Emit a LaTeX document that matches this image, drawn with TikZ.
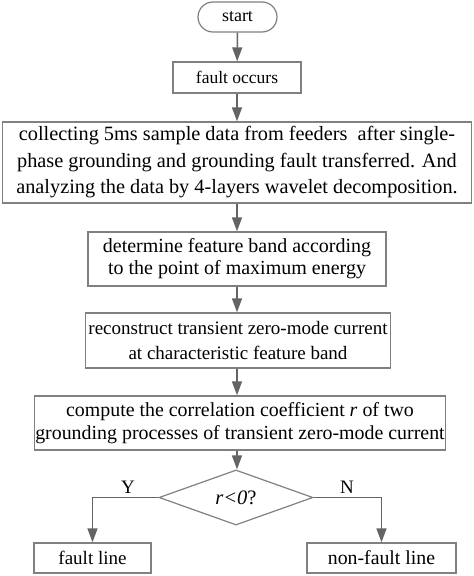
\documentclass[tikz,border=0pt]{standalone}
\usepackage{fontspec}
\setmainfont{Liberation Serif}
\usetikzlibrary{shapes.geometric,shapes.misc,arrows.meta}
\definecolor{boxgray}{RGB}{128,128,128}
\definecolor{arrgray}{RGB}{100,100,100}
\newcommand{\fsz}[2]{\fontsize{#1}{#2}\selectfont}
\begin{document}
\begin{tikzpicture}[x=1pt,y=-1pt,
  every node/.style={font=\fsz{19}{25}, text=black, inner sep=0pt},
  box/.style={draw=boxgray, line width=1.4pt, rectangle, align=center},
  term/.style={draw=boxgray, line width=1.2pt, rounded rectangle, minimum width=79pt, minimum height=30pt},
  dec/.style={draw=boxgray, line width=1.2pt, diamond, minimum width=154pt, minimum height=40pt},
  arr/.style={draw=arrgray, line width=1.5pt, -{Triangle[length=14pt,width=10pt]}},
  lbl/.style={font=\fsz{19}{25}}
]
\useasboundingbox (0,0) rectangle (474,576);
\node[term, font=\fsz{18}{22}] (start) at (237.5,17) {start};
\node[box, minimum width=128pt, minimum height=31pt, font=\fsz{17.5}{22}] (fault) at (237,77.5) {fault occurs};
\node[box, minimum width=469pt, minimum height=81pt, font=\fsz{20.3}{26.5}] (collect) at (237,162.5)
  {collecting 5ms sample data from feeders\ \ after single-\\
   phase grounding and grounding fault transferred. And\\
   analyzing the data by 4-layers wavelet decomposition.};
\node[box, minimum width=298pt, minimum height=54pt, font=\fsz{20}{22}] (feat) at (237,259)
  {determine feature band according\\ to the point of maximum energy};
\node[box, minimum width=305pt, minimum height=55pt, font=\fsz{19}{25}] (recon) at (238,340.5)
  {reconstruct transient zero-mode current\\ at characteristic feature band};
\node[box, minimum width=411pt, minimum height=54pt, font=\fsz{19.9}{23}] (comp) at (240,423)
  {compute the correlation coefficient \textit{r} of two\\ grounding processes of transient zero-mode current};
\node[dec, font=\fsz{20.5}{24}] (dia) at (236,497.5) {\textit{r<0}?};
\node[box, minimum width=117pt, minimum height=30pt] (fl) at (92.5,558) {fault line};
\node[box, minimum width=149pt, minimum height=30pt, font=\fsz{19.8}{24}] (nfl) at (381.5,558) {non-fault line};
\node[lbl] (Y) at (128,487) {Y};
\node[lbl] (N) at (347,487) {N};

\draw[arr] (start) -- (fault);
\draw[arr] (fault) -- (collect.north -| fault);
\draw[arr] (collect.south -| feat) -- (feat);
\draw[arr] (feat.south) -- (feat.south |- recon.north);
\draw[arr] (feat.south |- recon.south) -- (feat.south |- comp.north);
\draw[arr] (feat.south |- comp.south) -- (feat.south |- dia.north);
\draw[arr] (dia.west) -| (fl.north);
\draw[arr] (dia.east) -| (nfl.north);
\end{tikzpicture}
\end{document}
